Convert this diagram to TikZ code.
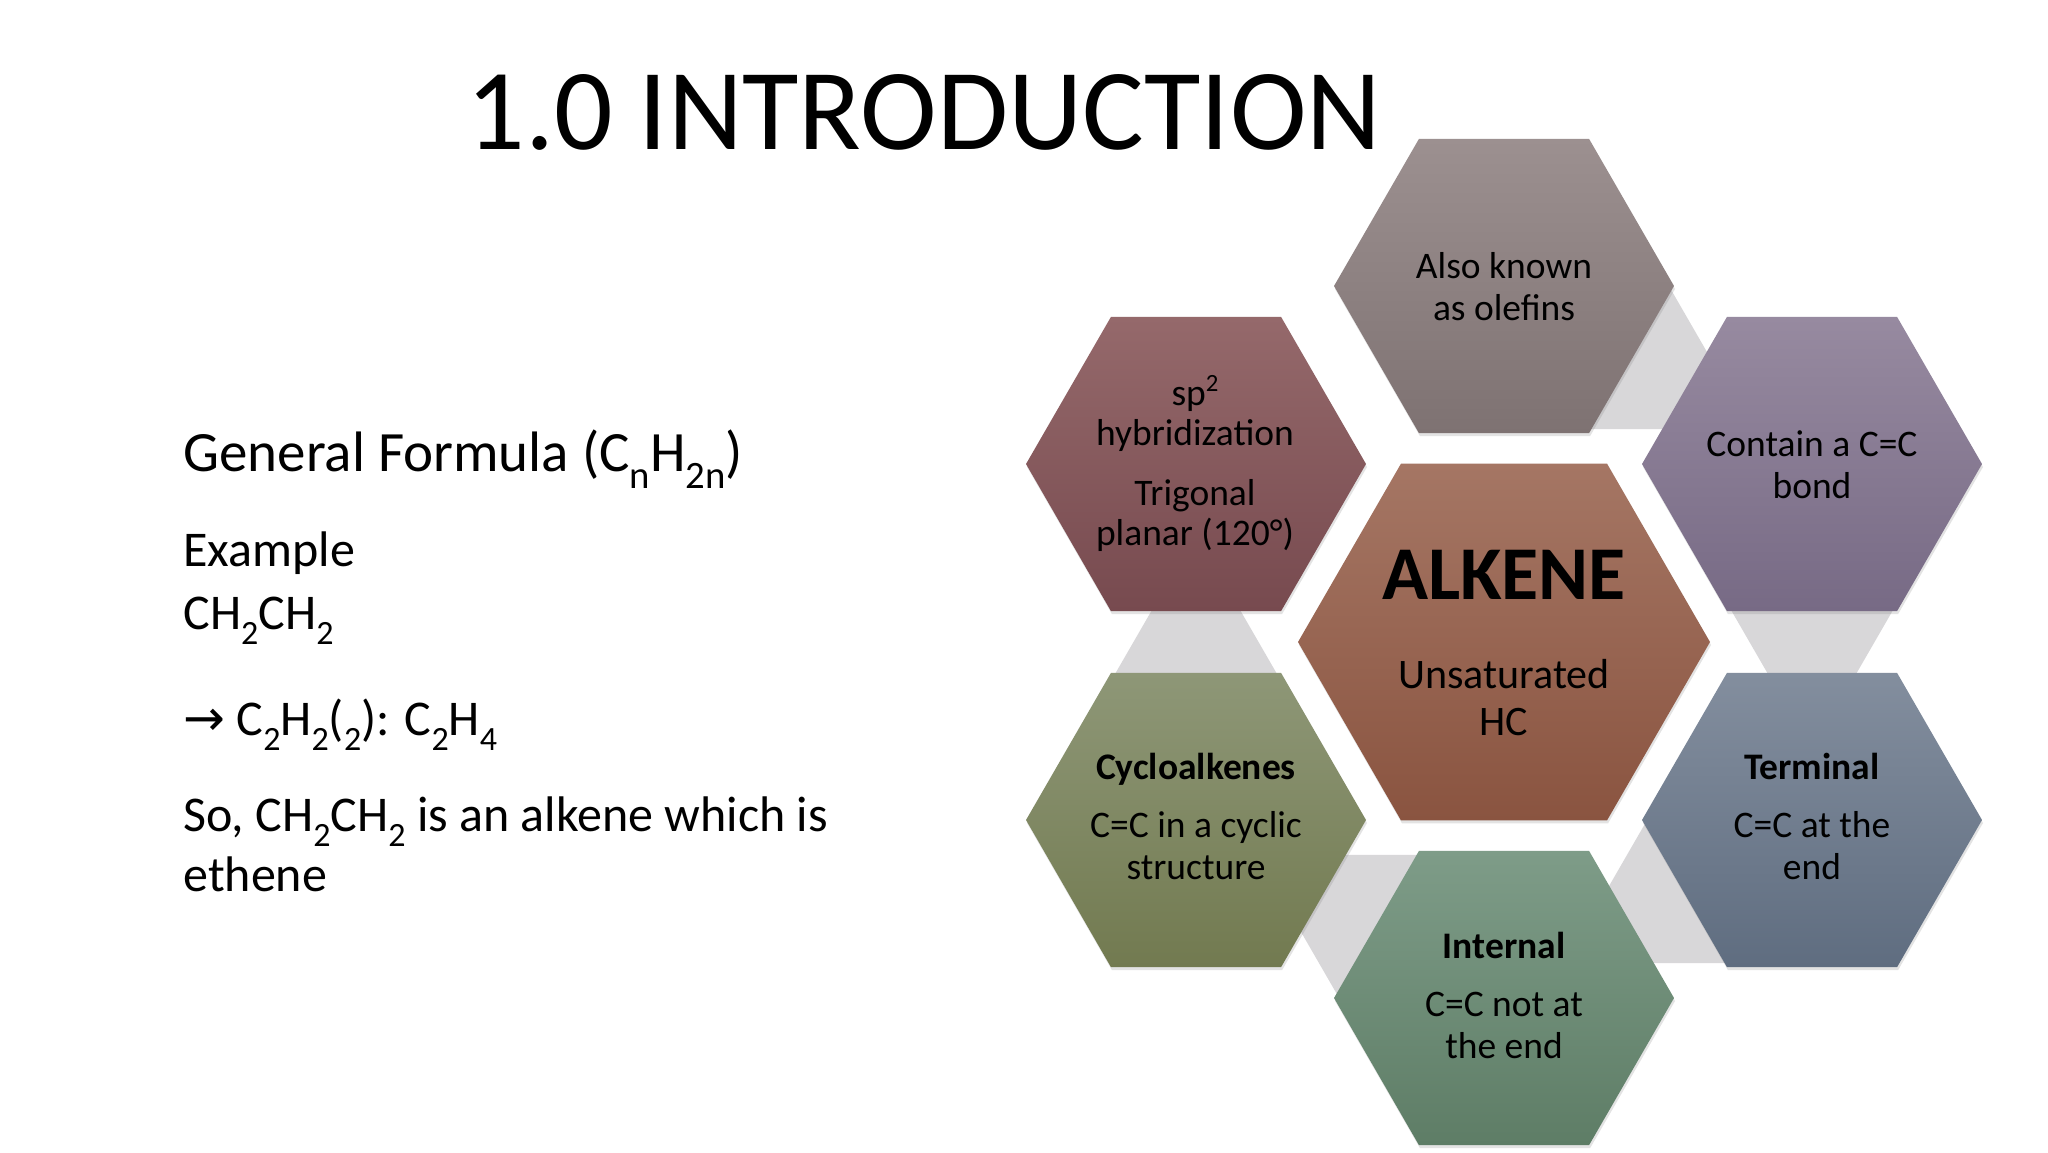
\documentclass[tikz,border=0pt]{standalone}
\usepackage{fontspec}
\setmainfont{Carlito}
\newfontfamily\dejavu{DejaVu Sans}
\usepackage{graphicx}
\usetikzlibrary{shapes.geometric,shadows}
\newcommand\lo[1]{\raisebox{-0.3em}{\scalebox{0.68}{#1}}}
\newcommand\hi[1]{\raisebox{0.36em}{\scalebox{0.66}{#1}}}
\definecolor{gapgray}{HTML}{D8D7D9}
\definecolor{aT}{HTML}{9C9090}\definecolor{aB}{HTML}{7E7272}
\definecolor{sT}{HTML}{95696B}\definecolor{sB}{HTML}{774A4F}
\definecolor{cT}{HTML}{978AA0}\definecolor{cB}{HTML}{776A85}
\definecolor{kT}{HTML}{A57664}\definecolor{kB}{HTML}{8A5440}
\definecolor{yT}{HTML}{8E9777}\definecolor{yB}{HTML}{727A50}
\definecolor{tT}{HTML}{838E9E}\definecolor{tB}{HTML}{5F6D80}
\definecolor{iT}{HTML}{7E9C88}\definecolor{iB}{HTML}{5E7D66}
\tikzset{
  hexshape/.style={regular polygon, regular polygon sides=6,
    inner sep=0pt, outer sep=0pt, draw=none},
  hexo/.style={hexshape, minimum size=170pt,
    drop shadow={shadow xshift=0.5pt, shadow yshift=-1.5pt, opacity=0.22}},
  hexc/.style={hexshape, minimum size=206pt,
    drop shadow={shadow xshift=0.5pt, shadow yshift=-1.5pt, opacity=0.22}},
  hexg/.style={hexshape, minimum size=81pt, fill=gapgray},
  body/.style={anchor=base west, inner sep=0pt, font=\fontsize{25pt}{30pt}\selectfont},
  hx/.style={anchor=base, inner sep=0pt, font=\fontsize{18.75pt}{22pt}\selectfont},
  hxb/.style={hx, font=\fontsize{18.75pt}{22pt}\selectfont\bfseries},
}
\begin{document}
\begin{tikzpicture}[x=0.5pt, y=-0.5pt]
\useasboundingbox (0,0) rectangle (2048,1152);
\fill[white] (0,0) rectangle (2048,1152);

% title
\node[anchor=base west, inner sep=0pt, font=\fontsize{57.8pt}{70pt}\selectfont] (title) at (466,149) {1.0 INTRODUCTION};

% left text
\node[body, font=\fontsize{28.5pt}{34pt}\selectfont] (gf) at (183,471) {General Formula (C\lo{n}H\lo{2n})};
\node[body] (ex) at (183,566) {Example};
\node[body] (ch) at (183,629) {CH\lo{2}CH\lo{2}};
\node[body] (ar) at (183,735) {{\dejavu →} C\lo{2}H\lo{2}(\lo{2}): C\lo{2}H\lo{4}};
\node[body] (so) at (183,831) {So, CH\lo{2}CH\lo{2} is an alkene which is};
\node[body] (et) at (183,891) {ethene};

% gap hexagons
\node[hexg] (g1) at (1630,359) {};
\node[hexg] (g2) at (1812,610) {};
\node[hexg] (g3) at (1686,893) {};
\node[hexg] (g4) at (1378,925) {};
\node[hexg] (g5) at (1196,674) {};

% hexagons
\node[hexc, top color=kT, bottom color=kB] (alk) at (1504,642) {};
\node[hexo, top color=aT, bottom color=aB] (top) at (1504,286) {};
\node[hexo, top color=cT, bottom color=cB] (con) at (1812,464) {};
\node[hexo, top color=tT, bottom color=tB] (ter) at (1812,820) {};
\node[hexo, top color=iT, bottom color=iB] (int) at (1504,998) {};
\node[hexo, top color=yT, bottom color=yB] (cyc) at (1196,820) {};
\node[hexo, top color=sT, bottom color=sB] (sp) at (1196,464) {};

% hexagon texts
\node[hx] (t1a) at (1504,278) {Also known};
\node[hx] (t1b) at (1504,320) {as olefins};

\node[hx] (t2a) at (1195,405) {sp\hi{2}};
\node[hx] (t2b) at (1195,445) {hybridization};
\node[hx] (t2c) at (1195,505) {Trigonal};
\node[hx] (t2d) at (1195,545) {planar (120°)};

\node[hx] (t3a) at (1812,456) {Contain a C=C};
\node[hx] (t3b) at (1812,498) {bond};

\node[anchor=base, inner sep=0pt, font=\fontsize{38pt}{44pt}\selectfont\bfseries] (t0a) at (1504,599) {ALKENE};
\node[anchor=base, inner sep=0pt, font=\fontsize{21pt}{25pt}\selectfont] (t0b) at (1504,688) {Unsaturated};
\node[anchor=base, inner sep=0pt, font=\fontsize{21pt}{25pt}\selectfont] (t0c) at (1504,735) {HC};

\node[hxb] (t4a) at (1196,779) {Cycloalkenes};
\node[hx] (t4b) at (1196,837) {C=C in a cyclic};
\node[hx] (t4c) at (1196,879) {structure};

\node[hxb] (t5a) at (1812,779) {Terminal};
\node[hx] (t5b) at (1812,837) {C=C at the};
\node[hx] (t5c) at (1812,879) {end};

\node[hxb] (t6a) at (1504,958) {Internal};
\node[hx] (t6b) at (1504,1016) {C=C not at};
\node[hx] (t6c) at (1504,1058) {the end};
\end{tikzpicture}
\end{document}
